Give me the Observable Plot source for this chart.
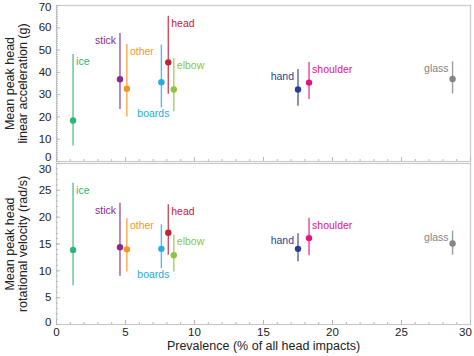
<!DOCTYPE html>
<html>
<head>
<meta charset="utf-8">
<script src="https://cdn.jsdelivr.net/npm/d3@7"></script>
<script src="https://cdn.jsdelivr.net/npm/@observablehq/plot@0.6"></script>
<style>
  html, body { margin: 0; padding: 0; background: #fff; }
  #chart svg { display: block; }
</style>
</head>
<body>
<div id="chart"></div>
<script>
// ---- data ----
const categories = ["ice", "stick", "other", "boards", "head", "elbow", "hand", "shoulder", "glass"];
const prevalence = [1.2, 4.6, 5.1, 7.6, 8.1, 8.5, 17.5, 18.3, 28.7];
const accMean = [18.4, 36.9, 32.7, 35.6, 44.5, 32.3, 32.3, 35.4, 37.0];
const accLow  = [6.9, 23.3, 20.0, 24.0, 30.2, 22.2, 24.8, 27.8, 30.3];
const accHigh = [48.0, 57.4, 52.5, 52.2, 65.2, 46.2, 41.3, 44.4, 44.7];
const rotMean = [13.9, 14.4, 14.0, 14.1, 17.1, 12.9, 14.1, 16.1, 15.1];
const rotLow  = [7.2, 9.0, 9.8, 10.4, 12.9, 9.8, 11.7, 12.8, 12.9];
const rotHigh = [26.3, 22.6, 19.7, 18.6, 22.3, 16.7, 16.9, 19.8, 17.4];
const colors = ["#2fb574", "#8a2a8c", "#f7941d", "#29aae1", "#c4202f", "#8cc63e", "#283f8f", "#e5137d", "#858585"];
const xTicks = [0, 5, 10, 15, 20, 25, 30];
const accTicks = [0, 10, 20, 30, 40, 50, 60, 70];
const rotTicks = [0, 5, 10, 15, 20, 25, 30];
const accTitle = "Mean peak head\nlinear acceleration (g)";
const rotTitle = "Mean peak head\nrotational velocity (rad/s)";
const xTitle = "Prevalence (% of all head impacts)";

// ---- label placement (style) ----
const leftLabels = new Set(["stick", "hand", "glass"]);
const belowLabels = new Set(["boards"]);

const FONT = "'Liberation Sans', Arial, Helvetica, sans-serif";
const FRAME = "#c9c9c9";
const TICK = "#b5b5b5";

function rows(mean, low, high) {
  return categories.map((c, i) => ({cat: c, x: prevalence[i], mean: mean[i], lo: low[i], hi: high[i], color: colors[i]}));
}

function panel({data, ticks, domain, title, height, marginTop, marginBottom, bottom}) {
  const inner = ticks.slice(1, -1);
  const first = ticks[0], last = ticks[ticks.length - 1];
  const minor = d3.range(domain[0], domain[1] + 1, 1);
  const xMinor = d3.range(0, 31, 1);
  const right = data.filter(d => !leftLabels.has(d.cat) && !belowLabels.has(d.cat));
  const left = data.filter(d => leftLabels.has(d.cat));
  const below = data.filter(d => belowLabels.has(d.cat));
  const marks = [
    Plot.frame({stroke: FRAME, strokeWidth: 1.2}),
    Plot.axisY({ticks: minor, text: null, tickSize: -2, stroke: TICK}),
    Plot.axisY({ticks, text: null, tickSize: -4, stroke: TICK}),
    Plot.axisY({ticks: inner, tickSize: 0, tickPadding: 5, fontSize: 11.5, fill: "#222"}),
    Plot.axisY({ticks: [first], tickSize: 0, tickPadding: 5, fontSize: 11.5, fill: "#222", dy: bottom ? -2 : -4}),
    Plot.axisY({ticks: [last], tickSize: 0, tickPadding: 5, fontSize: 11.5, fill: "#222", dy: bottom ? 6 : 1.5}),
    Plot.axisX({ticks: xMinor, text: null, tickSize: -2, stroke: TICK}),
    Plot.axisX({ticks: xTicks, text: null, tickSize: -4, stroke: TICK}),
    Plot.text([title], {frameAnchor: "left", rotate: -90, dx: -40, lineHeight: 1.05, fontSize: 12.5, fill: "#222",
      textAnchor: "middle", lineAnchor: "middle"}),
    Plot.ruleX(data, {x: "x", y1: "lo", y2: "hi", stroke: "color", strokeWidth: 1.4, strokeOpacity: 0.8}),
    Plot.dot(data, {x: "x", y: "mean", fill: "color", r: 3.2}),
    Plot.text(right, {x: "x", y: "hi", text: "cat", fill: "color", textAnchor: "start", dx: 3, dy: 7, fontSize: 10.5}),
    Plot.text(left, {x: "x", y: "hi", text: "cat", fill: "color", textAnchor: "end", dx: -4, dy: 7, fontSize: 10.5}),
    Plot.text(below, {x: "x", y: "lo", text: "cat", fill: "color", textAnchor: "middle", dx: -8, dy: 6, fontSize: 10.5})
  ];
  if (bottom) {
    marks.push(
      Plot.axisX({ticks: xTicks.slice(0, -1), tickSize: 0, tickPadding: 3, fontSize: 11.5, fill: "#222"}),
      Plot.axisX({ticks: xTicks.slice(-1), tickSize: 0, tickPadding: 3, fontSize: 11.5, fill: "#222", dx: -5}),
      Plot.text([xTitle], {frameAnchor: "bottom", dy: 21, fontSize: 12.5, fill: "#222", lineAnchor: "middle"})
    );
  }
  return Plot.plot({
    width: 474,
    height,
    marginLeft: 56,
    marginRight: 4,
    marginTop,
    marginBottom,
    style: {fontFamily: FONT, fontSize: "11px", background: "#fff", overflow: "visible"},
    x: {domain: [0, 30], label: null, axis: null},
    y: {domain, label: null, axis: null},
    color: {type: "identity"},
    marks
  });
}

const topPanel = panel({data: rows(accMean, accLow, accHigh), ticks: accTicks, domain: [0, 70], title: accTitle,
  height: 162, marginTop: 5, marginBottom: 1, bottom: false});
const bottomPanel = panel({data: rows(rotMean, rotLow, rotHigh), ticks: rotTicks, domain: [0, 30], title: rotTitle,
  height: 194, marginTop: 1, marginBottom: 32, bottom: true});
const el = document.getElementById("chart");
el.appendChild(topPanel);
el.appendChild(bottomPanel);
</script>
</body>
</html>
